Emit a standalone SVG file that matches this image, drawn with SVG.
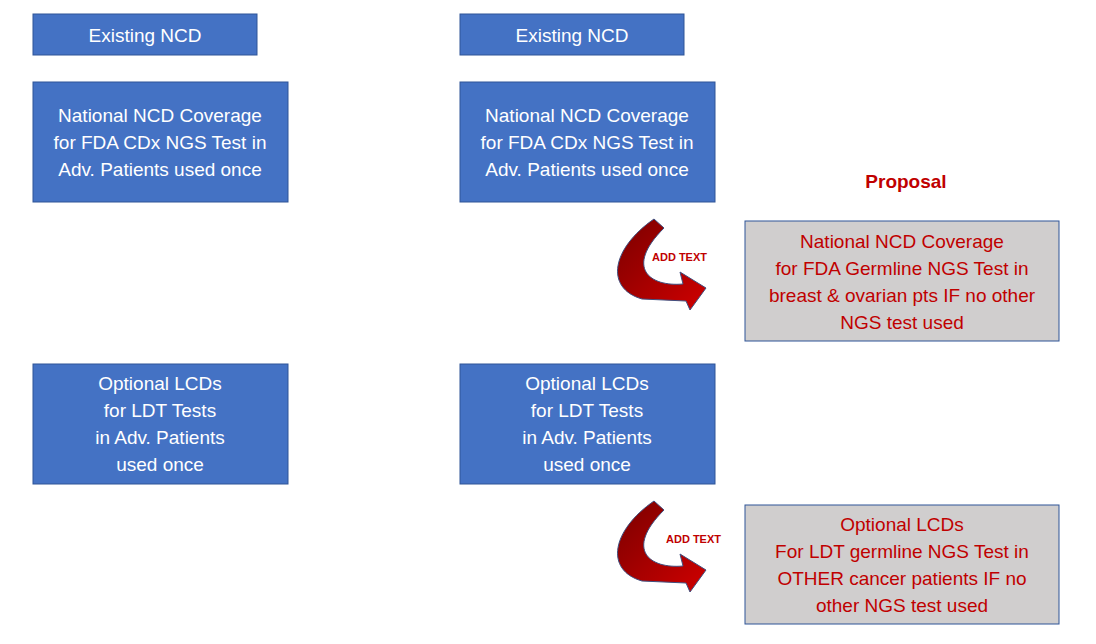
<svg xmlns="http://www.w3.org/2000/svg" width="1096" height="644" viewBox="0 0 1096 644">
<style>
.b{fill:#4472c4;stroke:#2f5597;stroke-width:1}
.g{fill:#d0cece;stroke:#2f5597;stroke-width:1}
.w{fill:#fff;font-family:"Liberation Sans",Arial,sans-serif;font-size:19px;text-anchor:middle}
.r{fill:#c00000;font-family:"Liberation Sans",Arial,sans-serif;font-size:19px;text-anchor:middle}
.s{fill:#c00000;font-family:"Liberation Sans",Arial,sans-serif;font-size:11px;font-weight:bold}
</style>
<defs>
<linearGradient id="ag" x1="0" y1="0" x2="1" y2="1"><stop offset="0" stop-color="#7a0000"/><stop offset="1" stop-color="#d00000"/></linearGradient>
<path id="arr" d="M654,219 C612,248 604,288 642,299 L686,301 L690,310 L706,288 L680,272 L683,284 C650,287 624,268 664,228 Z" fill="url(#ag)" stroke="#3f4f7f" stroke-width="1"/>
</defs>
<g id="n1"><rect class="b" x="33" y="14" width="224" height="41"/><text class="w" x="145" y="42">Existing NCD</text></g>
<g id="n2"><rect class="b" x="460" y="14" width="224" height="41"/><text class="w" x="572" y="42">Existing NCD</text></g>
<g id="n3"><rect class="b" x="33" y="82" width="255" height="120"/><text class="w" x="160" y="122">National NCD Coverage</text><text class="w" x="160" y="149">for FDA CDx NGS Test in</text><text class="w" x="160" y="176">Adv. Patients used once</text></g>
<g id="n4"><rect class="b" x="460" y="82" width="255" height="120"/><text class="w" x="587" y="122">National NCD Coverage</text><text class="w" x="587" y="149">for FDA CDx NGS Test in</text><text class="w" x="587" y="176">Adv. Patients used once</text></g>
<g id="n5"><rect class="b" x="33" y="364" width="255" height="120"/><text class="w" x="160" y="390">Optional LCDs</text><text class="w" x="160" y="417">for LDT Tests</text><text class="w" x="160" y="444">in Adv. Patients</text><text class="w" x="160" y="471">used once</text></g>
<g id="n6"><rect class="b" x="460" y="364" width="255" height="120"/><text class="w" x="587" y="390">Optional LCDs</text><text class="w" x="587" y="417">for LDT Tests</text><text class="w" x="587" y="444">in Adv. Patients</text><text class="w" x="587" y="471">used once</text></g>
<g id="title"><text x="906" y="188" fill="#c00000" font-family="Liberation Sans,Arial,sans-serif" font-size="19" font-weight="bold" text-anchor="middle">Proposal</text></g>
<g id="n7"><rect class="g" x="745" y="221" width="314" height="120"/><text class="r" x="902" y="248">National NCD Coverage</text><text class="r" x="902" y="275">for FDA Germline NGS Test in</text><text class="r" x="902" y="302">breast &amp; ovarian pts IF no other</text><text class="r" x="902" y="329">NGS test used</text></g>
<g id="n8"><rect class="g" x="745" y="505" width="314" height="119"/><text class="r" x="902" y="531">Optional LCDs</text><text class="r" x="902" y="558">For LDT germline NGS Test in</text><text class="r" x="902" y="585">OTHER cancer patients IF no</text><text class="r" x="902" y="612">other NGS test used</text></g>
<g id="connectors">
<use href="#arr"/><text class="s" x="652" y="261">ADD TEXT</text>
<use href="#arr" transform="translate(0,282)"/><text class="s" x="666" y="543">ADD TEXT</text>
</g>
</svg>
